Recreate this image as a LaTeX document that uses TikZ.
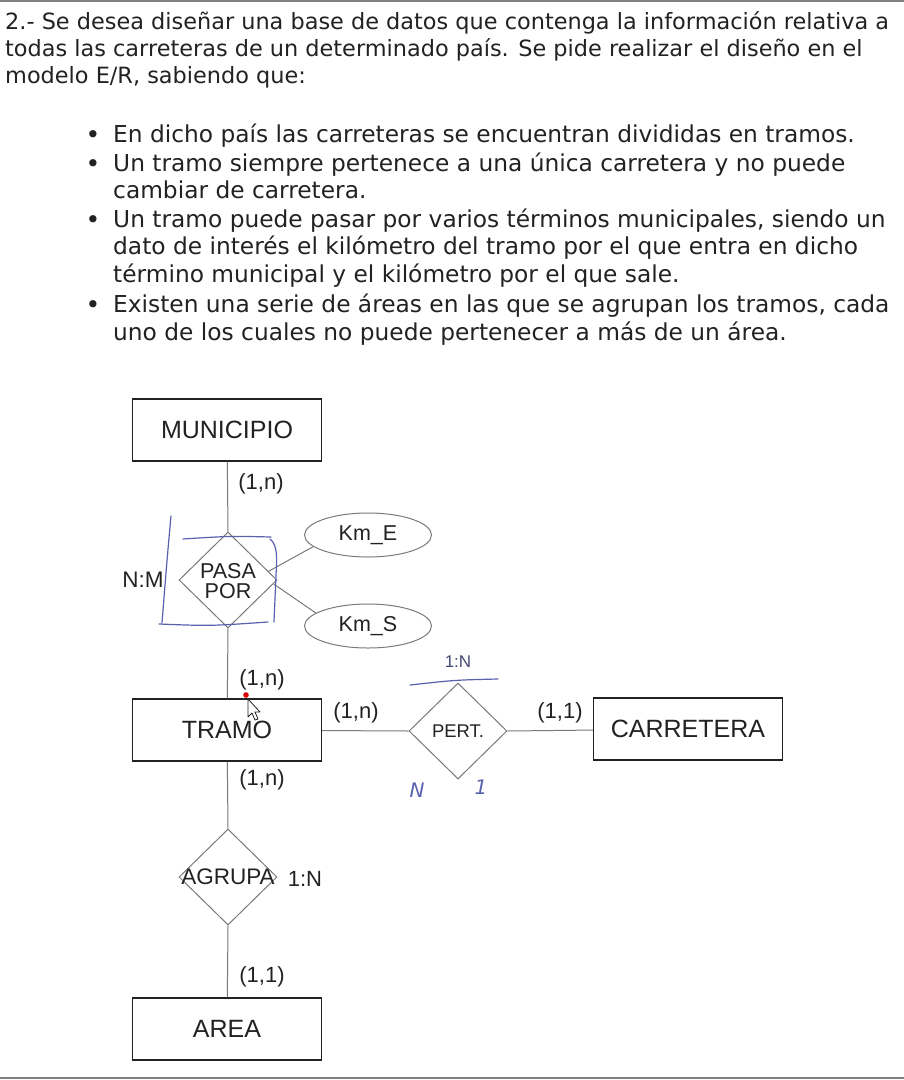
\documentclass[tikz,border=0pt]{standalone}
\usepackage{fontspec}
\setmainfont{DejaVu Sans}
\newfontfamily\arial{Liberation Sans}
\usetikzlibrary{shapes.geometric,calc}
\definecolor{ink}{HTML}{222222}
\definecolor{conn}{HTML}{7A7A7A}
\definecolor{pen}{HTML}{5A62B0}
\tikzset{
  txt/.style={anchor=base west,inner sep=0pt,text=ink,font=\fontsize{23.3}{26}\selectfont},
  htxt/.style={anchor=base west,inner sep=0pt,text=ink,font=\fontsize{22.4}{26}\selectfont},
  bul/.style={anchor=base,inner sep=0pt,text=ink,font=\fontsize{25}{26}\selectfont},
  ent/.style={draw=ink,line width=1.4pt,minimum width=189pt,minimum height=62pt,inner sep=0pt,font=\arial\fontsize{25}{27}\selectfont,text=ink},
  rel/.style={draw=conn,line width=1pt,diamond,minimum width=98pt,minimum height=96pt,inner sep=0pt},
  attr/.style={draw=conn,line width=1pt,ellipse,minimum width=127pt,minimum height=44pt,inner sep=0pt,font=\arial\fontsize{21.5}{23}\selectfont,text=ink},
  lbl/.style={inner sep=0pt,text=ink,font=\arial\fontsize{21.5}{22}\selectfont,align=center},
  card/.style={inner sep=0pt,text=ink,font=\arial\fontsize{22}{24}\selectfont},
  conn/.style={draw=conn,line width=1pt},
  hand/.style={draw=pen,line width=1.2pt,line cap=round},
  handtxt/.style={inner sep=0pt,text=pen,font=\itshape\fontsize{20}{22}\selectfont}
}
\begin{document}
\begin{tikzpicture}[x=1pt,y=-1pt]
\useasboundingbox (0,0) rectangle (904,1080);
\fill[white] (0,0) rectangle (904,1080);
\draw[gray,line width=2pt] (0,1) -- (904,1);
\draw[gray,line width=2pt] (0,1078) -- (904,1078);
% header
\node[htxt] (h1) at (5,29) {2.- Se desea diseñar una base de datos que contenga la información relativa a};
\node[htxt] (h2) at (5,56) {todas las carreteras de un determinado país. Se pide realizar el diseño en el};
\node[htxt] (h3) at (5,83) {modelo E/R, sabiendo que:};
% bullets
\node[bul] (b1) at (93,143) {•};
\node[bul] (b2) at (93,172) {•};
\node[bul] (b3) at (93,228) {•};
\node[bul] (b4) at (93,313) {•};
\node[txt] (t1) at (113,142) {En dicho país las carreteras se encuentran divididas en tramos.};
\node[txt] (t2) at (113,171) {Un tramo siempre pertenece a una única carretera y no puede};
\node[txt] (t3) at (113,198) {cambiar de carretera.};
\node[txt] (t4) at (113,227) {Un tramo puede pasar por varios términos municipales, siendo un};
\node[txt] (t5) at (113,254) {dato de interés el kilómetro del tramo por el que entra en dicho};
\node[txt] (t6) at (113,282) {término municipal y el kilómetro por el que sale.};
\node[txt] (t7) at (113,312) {Existen una serie de áreas en las que se agrupan los tramos, cada};
\node[txt] (t8) at (113,340) {uno de los cuales no puede pertenecer a más de un área.};
% entities
\node[ent] (mun) at (227,430) {MUNICIPIO};
\node[ent] (tramo) at (227,730) {TRAMO};
\node[ent] (carr) at (688,729) {CARRETERA};
\node[ent] (area) at (227,1029) {AREA};
% relationships
\node[rel] (pasa) at (228,580) {};
\node[lbl,anchor=base] (pasal) at (228,578) {PASA};
\node[lbl,anchor=base] (porl) at (228,598) {POR};
\node[rel] (pert) at (458,731) {};
\node[lbl,font=\arial\fontsize{18.4}{20}\selectfont] (pertl) at (pert) {PERT.};
\node[rel] (agr) at (228,877) {};
\node[lbl,font=\arial\fontsize{22.5}{24}\selectfont] (agrl) at (agr) {AGRUPA};
% attributes
\node[attr] (kme) at (368,535) {Km\_E};
\node[attr] (kms) at (368,626) {Km\_S};
% connectors
\draw[conn] (mun) -- (pasa.north);
\draw[conn] (pasa.south) -- (tramo);
\draw[conn] (tramo) -- (pert.west);
\draw[conn] (pert.east) -- (carr);
\draw[conn] (tramo) -- (agr.north);
\draw[conn] (agr.south) -- (area);
\draw[conn] ($(pasa.east)!0.18!(pasa.north)$) -- (kme.192);
\draw[conn] ($(pasa.east)!0.08!(pasa.south)$) -- (kms.166);
% cardinalities
\node[card] (c1) at (261,484) {(1,n)};
\node[card] (c2) at (262,680) {(1,n)};
\node[card] (c3) at (356,713) {(1,n)};
\node[card] (c4) at (560,713) {(1,1)};
\node[card] (c5) at (262,780) {(1,n)};
\node[card] (c6) at (262,977) {(1,1)};
\node[card,font=\arial\fontsize{22.5}{24}\selectfont] (nm) at (143,580) {N:M};
\node[card] (a1n) at (305,879) {1:N};
% handwritten annotations
\draw[hand] (171,516) .. controls (167,560) .. (162,623);
\draw[hand] (159,624) .. controls (210,626) .. (268,622);
\draw[hand] (183,539) .. controls (230,536) .. (271,537);
\draw[hand] (270,539) .. controls (278,545) and (277,560) .. (276,575) -- (274,622);
\draw[hand] (410,685) .. controls (455,680) .. (498,679);
\node[card,font=\arial\fontsize{17}{18}\selectfont,text=pen!60!ink] (pn) at (458,662) {1:N};
\node[handtxt] (hn) at (417,790) {N};
\node[handtxt] (h1n) at (481,787) {1};
% cursor
\fill[red!85!black] (246,695) circle (2.8pt);
\draw[ink,fill=white,line width=0.8pt,line join=round] (248,699) -- (248,717) -- (252,713) -- (255,720) -- (258,719) -- (255,712) -- (260,712) -- cycle;
\end{tikzpicture}
\end{document}
